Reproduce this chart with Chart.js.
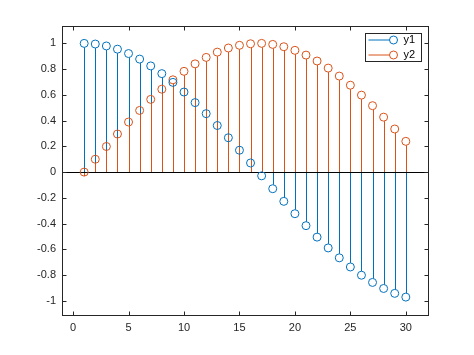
<!DOCTYPE html>
<html>
<head>
<meta charset="utf-8">
<script src="https://cdn.jsdelivr.net/npm/chart.js@4.4.0/dist/chart.umd.min.js"></script>
<style>
  html, body { margin: 0; padding: 0; background: #fff; }
  #wrap { width: 474px; height: 355px; }
</style>
</head>
<body>
<div id="wrap"><canvas id="stemChart" width="474" height="355"></canvas></div>
<script>
// sample index
const xValues = [1, 2, 3, 4, 5, 6, 7, 8, 9, 10, 11, 12, 13, 14, 15,
                 16, 17, 18, 19, 20, 21, 22, 23, 24, 25, 26, 27, 28, 29, 30];
// series
const y1Values = [1.00, 0.995, 0.98, 0.955, 0.921, 0.878, 0.825, 0.765, 0.697, 0.622,
                  0.54, 0.454, 0.362, 0.267, 0.17, 0.071, -0.029, -0.129, -0.227, -0.323,
                  -0.416, -0.505, -0.589, -0.666, -0.737, -0.801, -0.857, -0.904, -0.942, -0.971];
const y2Values = [0.0, 0.1, 0.199, 0.296, 0.389, 0.479, 0.565, 0.644, 0.717, 0.783,
                  0.841, 0.891, 0.932, 0.964, 0.985, 0.997, 1.0, 0.992, 0.974, 0.946,
                  0.909, 0.863, 0.808, 0.746, 0.675, 0.598, 0.516, 0.427, 0.335, 0.239];
const seriesLabels = ['y1', 'y2'];
const xTicks = [0, 5, 10, 15, 20, 25, 30];
const yTicks = [-1, -0.8, -0.6, -0.4, -0.2, 0, 0.2, 0.4, 0.6, 0.8, 1];

const colors = ['#0072BD', '#D95319'];
const axisColor = '#262626';
const fontFamily = '"Liberation Sans", Arial, Helvetica, sans-serif';

function toPoints(ys) {
    return xValues.map((x, i) => ({ x: x, y: ys[i] }));
}

// stems + baseline, drawn under the markers
const stemPlugin = {
    id: 'stems',
    beforeDatasetsDraw(chart) {
        const ctx = chart.ctx;
        const xs = chart.scales.x;
        const ys = chart.scales.y;
        const area = chart.chartArea;
        const y0 = ys.getPixelForValue(0);
        ctx.save();
        ctx.lineWidth = 1;
        chart.data.datasets.forEach(ds => {
            ctx.strokeStyle = ds.borderColor;
            ds.data.forEach(p => {
                const px = Math.round(xs.getPixelForValue(p.x)) + 0.5;
                const py = ys.getPixelForValue(p.y);
                const r = ds.pointRadius;
                const end = p.y >= 0 ? py + r : py - r;
                ctx.beginPath();
                ctx.moveTo(px, y0);
                ctx.lineTo(px, end);
                ctx.stroke();
            });
        });
        // baseline
        ctx.strokeStyle = '#000';
        ctx.beginPath();
        ctx.moveTo(area.left, Math.round(y0) + 0.5);
        ctx.lineTo(area.right, Math.round(y0) + 0.5);
        ctx.stroke();
        ctx.restore();
    }
};

// box, inward ticks on all sides, legend
const framePlugin = {
    id: 'frame',
    afterDraw(chart) {
        const ctx = chart.ctx;
        const a = chart.chartArea;
        const xs = chart.scales.x;
        const ys = chart.scales.y;
        const L = Math.round(a.left) + 0.5, R = Math.round(a.right) + 0.5;
        const T = Math.round(a.top) + 0.5, B = Math.round(a.bottom) + 0.5;
        ctx.save();
        ctx.strokeStyle = axisColor;
        ctx.lineWidth = 1;
        ctx.strokeRect(L, T, R - L, B - T);
        const tl = 4;
        ctx.beginPath();
        xTicks.forEach(v => {
            const px = Math.round(xs.getPixelForValue(v)) + 0.5;
            ctx.moveTo(px, B); ctx.lineTo(px, B - tl);
            ctx.moveTo(px, T); ctx.lineTo(px, T + tl);
        });
        yTicks.forEach(v => {
            const py = Math.round(ys.getPixelForValue(v)) + 0.5;
            ctx.moveTo(L, py); ctx.lineTo(L + tl, py);
            ctx.moveTo(R, py); ctx.lineTo(R - tl, py);
        });
        ctx.stroke();

        // legend
        const lw = 56, lh = 28;
        const lx = Math.round(a.right) - 63 + 0.5;
        const ly = Math.round(a.top) + 7 + 0.5;
        ctx.fillStyle = '#fff';
        ctx.fillRect(lx, ly, lw, lh);
        ctx.strokeStyle = axisColor;
        ctx.strokeRect(lx, ly, lw, lh);
        ctx.font = '11px ' + fontFamily;
        ctx.textBaseline = 'middle';
        chart.data.datasets.forEach((ds, i) => {
            const cy = ly + 6.5 + i * 15;
            ctx.strokeStyle = ds.borderColor;
            ctx.beginPath();
            ctx.moveTo(lx + 3, cy);
            ctx.lineTo(lx + 24, cy);
            ctx.stroke();
            ctx.beginPath();
            ctx.arc(lx + 28, cy, 4, 0, Math.PI * 2);
            ctx.stroke();
            ctx.fillStyle = '#000';
            ctx.fillText(ds.label, lx + 38, cy);
        });
        ctx.restore();
    }
};

const datasets = [y1Values, y2Values].map((ys, i) => ({
    label: seriesLabels[i],
    data: toPoints(ys),
    borderColor: colors[i],
    backgroundColor: 'rgba(0,0,0,0)',
    pointRadius: 4,
    pointBorderWidth: 1,
    pointHoverRadius: 4,
    showLine: false
}));

new Chart(document.getElementById('stemChart'), {
    type: 'scatter',
    data: { datasets: datasets },
    options: {
        responsive: false,
        animation: false,
        events: [],
        layout: { padding: { top: 26, right: 46, left: 0, bottom: 0 } },
        plugins: {
            legend: { display: false },
            tooltip: { enabled: false }
        },
        scales: {
            x: {
                type: 'linear',
                min: -1,
                max: 32,
                afterBuildTicks: s => { s.ticks = xTicks.map(v => ({ value: v })); },
                afterFit: s => { s.height = 40; },
                grid: { display: false, drawTicks: false },
                border: { display: false },
                ticks: {
                    padding: 6,
                    color: axisColor,
                    font: { family: fontFamily, size: 11 },
                    maxRotation: 0
                }
            },
            y: {
                type: 'linear',
                min: -1.11,
                max: 1.135,
                afterBuildTicks: s => { s.ticks = yTicks.map(v => ({ value: v })); },
                afterFit: s => { s.width = 62; },
                grid: { display: false, drawTicks: false },
                border: { display: false },
                ticks: {
                    padding: 6,
                    color: axisColor,
                    font: { family: fontFamily, size: 11 },
                    callback: v => String(Number(v.toFixed(1)))
                }
            }
        }
    },
    plugins: [stemPlugin, framePlugin]
});
</script>
</body>
</html>
